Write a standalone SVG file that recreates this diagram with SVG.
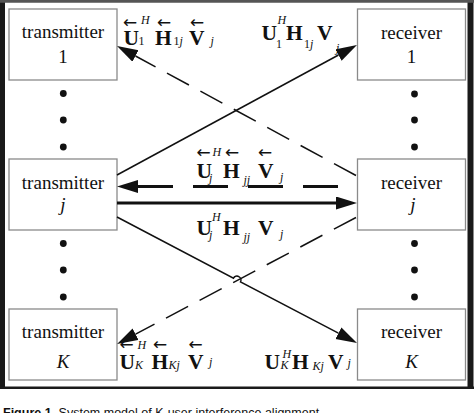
<svg xmlns="http://www.w3.org/2000/svg" width="474" height="413" viewBox="0 0 474 413">
<style>
.box{fill:#fff;stroke:#8a8a8a;stroke-width:1.3}
.lbl{font-family:"Liberation Serif","Times New Roman",serif;font-size:19px;fill:#111;text-anchor:middle}
.it{font-style:italic}
.b{font-family:"Liberation Serif","Times New Roman",serif;font-size:21.5px;font-weight:bold;fill:#111}
.s{font-family:"Liberation Serif","Times New Roman",serif;font-size:12px;fill:#111}
.ar{font-family:"DejaVu Sans",sans-serif;font-size:17px;fill:#111;text-anchor:middle}
.thin{fill:none;stroke:#111;stroke-width:1.5}
.thick{fill:none;stroke:#111;stroke-width:3}
.dash{stroke-dasharray:25 13}
.tdash{stroke-dasharray:35 20}
.dot{fill:#111}
.frame{stroke:#1a1a1a;fill:none}
.cap{font-family:"Liberation Sans",Arial,sans-serif;font-size:12.5px;fill:#111}
</style>
<defs>
<marker id="ah" markerUnits="userSpaceOnUse" markerWidth="22" markerHeight="14" refX="0" refY="6.5" orient="auto" viewBox="0 0 22 14">
<path d="M0,0 L21,6.5 L0,13 z" fill="#111"/>
</marker>
<marker id="ahT" markerUnits="userSpaceOnUse" markerWidth="22" markerHeight="14" refX="0" refY="6.5" orient="auto" viewBox="0 0 22 14">
<path d="M0,0 L21,6.5 L0,13 z" fill="#111"/>
</marker>
</defs>
<rect width="474" height="413" fill="#fff"/>
<g id="frame">
<line class="frame" x1="2.5" y1="0" x2="2.5" y2="389" stroke-width="5"/>
<line class="frame" x1="470.5" y1="0" x2="470.5" y2="389" stroke-width="6"/>
<line class="frame" x1="0" y1="1.3" x2="474" y2="1.3" stroke-width="2.7" style="stroke:#555"/>
<line class="frame" x1="0" y1="387.7" x2="474" y2="387.7" stroke-width="2.5"/>
</g>
<g id="tx1"><rect class="box" x="9" y="9" width="108" height="71"/>
<text class="lbl" x="63" y="38">transmitter</text><text class="lbl" x="63" y="63">1</text></g>
<g id="rx1"><rect class="box" x="357.5" y="9" width="108" height="71"/>
<text class="lbl" x="411.5" y="39">receiver</text><text class="lbl" x="411.5" y="63">1</text></g>
<g id="txj"><rect class="box" x="9" y="159" width="108" height="71"/>
<text class="lbl" x="63" y="189">transmitter</text><text class="lbl it" x="63" y="211">j</text></g>
<g id="rxj"><rect class="box" x="357.5" y="159" width="108" height="71"/>
<text class="lbl" x="411.5" y="189">receiver</text><text class="lbl it" x="413" y="211">j</text></g>
<g id="txK"><rect class="box" x="9" y="309" width="108" height="71"/>
<text class="lbl" x="63" y="338">transmitter</text><text class="lbl it" x="63" y="368">K</text></g>
<g id="rxK"><rect class="box" x="357.5" y="309" width="108" height="71"/>
<text class="lbl" x="411.5" y="338">receiver</text><text class="lbl it" x="411.5" y="368">K</text></g>
<g id="dots">
<circle class="dot" cx="63.3" cy="93.5" r="3.4"/><circle class="dot" cx="63.3" cy="120" r="3.4"/><circle class="dot" cx="63.3" cy="147" r="3.4"/>
<circle class="dot" cx="63.3" cy="243.5" r="3.4"/><circle class="dot" cx="63.3" cy="270" r="3.4"/><circle class="dot" cx="63.3" cy="297" r="3.4"/>
<circle class="dot" cx="414.5" cy="94" r="3.4"/><circle class="dot" cx="414.5" cy="120" r="3.4"/><circle class="dot" cx="414.5" cy="147" r="3.4"/>
<circle class="dot" cx="414.5" cy="243.5" r="3.4"/><circle class="dot" cx="414.5" cy="270" r="3.4"/><circle class="dot" cx="414.5" cy="297" r="3.4"/>
</g>
<g id="connectors">
<path class="thin" d="M117,175 L338.5,55" marker-end="url(#ah)"/>
<path class="thin dash" d="M356,175.5 L135.5,56" marker-end="url(#ah)"/>
<path class="thick tdash" d="M338,186.5 L138,186.5" marker-end="url(#ahT)"/>
<path class="thick" d="M117,203 L336,203" marker-end="url(#ahT)"/>
<path class="thin" d="M117,217 L233.46,278.14 A4,4 0 0 1 240.54,281.86 L338.4,333.2" marker-end="url(#ah)"/>
<path class="thin dash" d="M356,217.5 L135.6,334.2" marker-end="url(#ah)"/>
</g>
<g id="label-1j-rev">
<text class="ar" x="130" y="28">←</text><text class="b" x="123.5" y="45">U</text>
<text class="s" x="138.5" y="45">1</text><text class="s it" x="141" y="24">H</text>
<text class="ar" x="164" y="28">←</text><text class="b" x="155" y="45">H</text>
<text class="s" x="173.5" y="45">1<tspan class="it">j</tspan></text>
<text class="ar" x="197" y="28">←</text><text class="b" x="189" y="45">V</text>
<text class="s it" x="210.5" y="45">j</text>
</g>
<g id="label-1j">
<text class="b" x="261.5" y="40">U</text><text class="s" x="276" y="48">1</text><text class="s it" x="277.5" y="24">H</text>
<text class="b" x="286" y="40">H</text><text class="s" x="304" y="48">1<tspan class="it">j</tspan></text>
<text class="b" x="317" y="40">V</text><text class="s it" x="336" y="52">j</text>
</g>
<g id="label-jj-rev">
<text class="ar" x="203.5" y="158">←</text><text class="b" x="196.5" y="178">U</text>
<text class="s it" x="209" y="182">j</text><text class="s it" x="212.5" y="156">H</text>
<text class="ar" x="232" y="158">←</text><text class="b" x="223" y="178">H</text>
<text class="s it" x="243.5" y="184">jj</text>
<text class="ar" x="265" y="158">←</text><text class="b" x="258" y="178">V</text>
<text class="s it" x="280" y="181">j</text>
</g>
<g id="label-jj">
<text class="b" x="196.5" y="235">U</text><text class="s it" x="209" y="239">j</text><text class="s it" x="212" y="221">H</text>
<text class="b" x="223" y="235">H</text><text class="s it" x="243.5" y="241">jj</text>
<text class="b" x="258" y="235">V</text><text class="s it" x="280" y="238">j</text>
</g>
<g id="label-Kj-rev">
<text class="ar" x="126.5" y="350">←</text><text class="b" x="119.5" y="369">U</text>
<text class="s it" x="135" y="369">K</text><text class="s it" x="137.5" y="349">H</text>
<text class="ar" x="160" y="350">←</text><text class="b" x="151.5" y="369">H</text>
<text class="s it" x="168.5" y="369">Kj</text>
<text class="ar" x="195.5" y="350">←</text><text class="b" x="188" y="369">V</text>
<text class="s it" x="209" y="366">j</text>
</g>
<g id="label-Kj">
<text class="b" x="264.5" y="369">U</text><text class="s it" x="280.5" y="369">K</text><text class="s it" x="282.5" y="358">H</text>
<text class="b" x="292" y="369">H</text><text class="s it" x="312.5" y="370">Kj</text>
<text class="b" x="328" y="369">V</text><text class="s it" x="347.5" y="367">j</text>
</g>
<text class="cap" x="3" y="417"><tspan font-weight="bold">Figure 1.</tspan> System model of K-user interference alignment</text>
</svg>
